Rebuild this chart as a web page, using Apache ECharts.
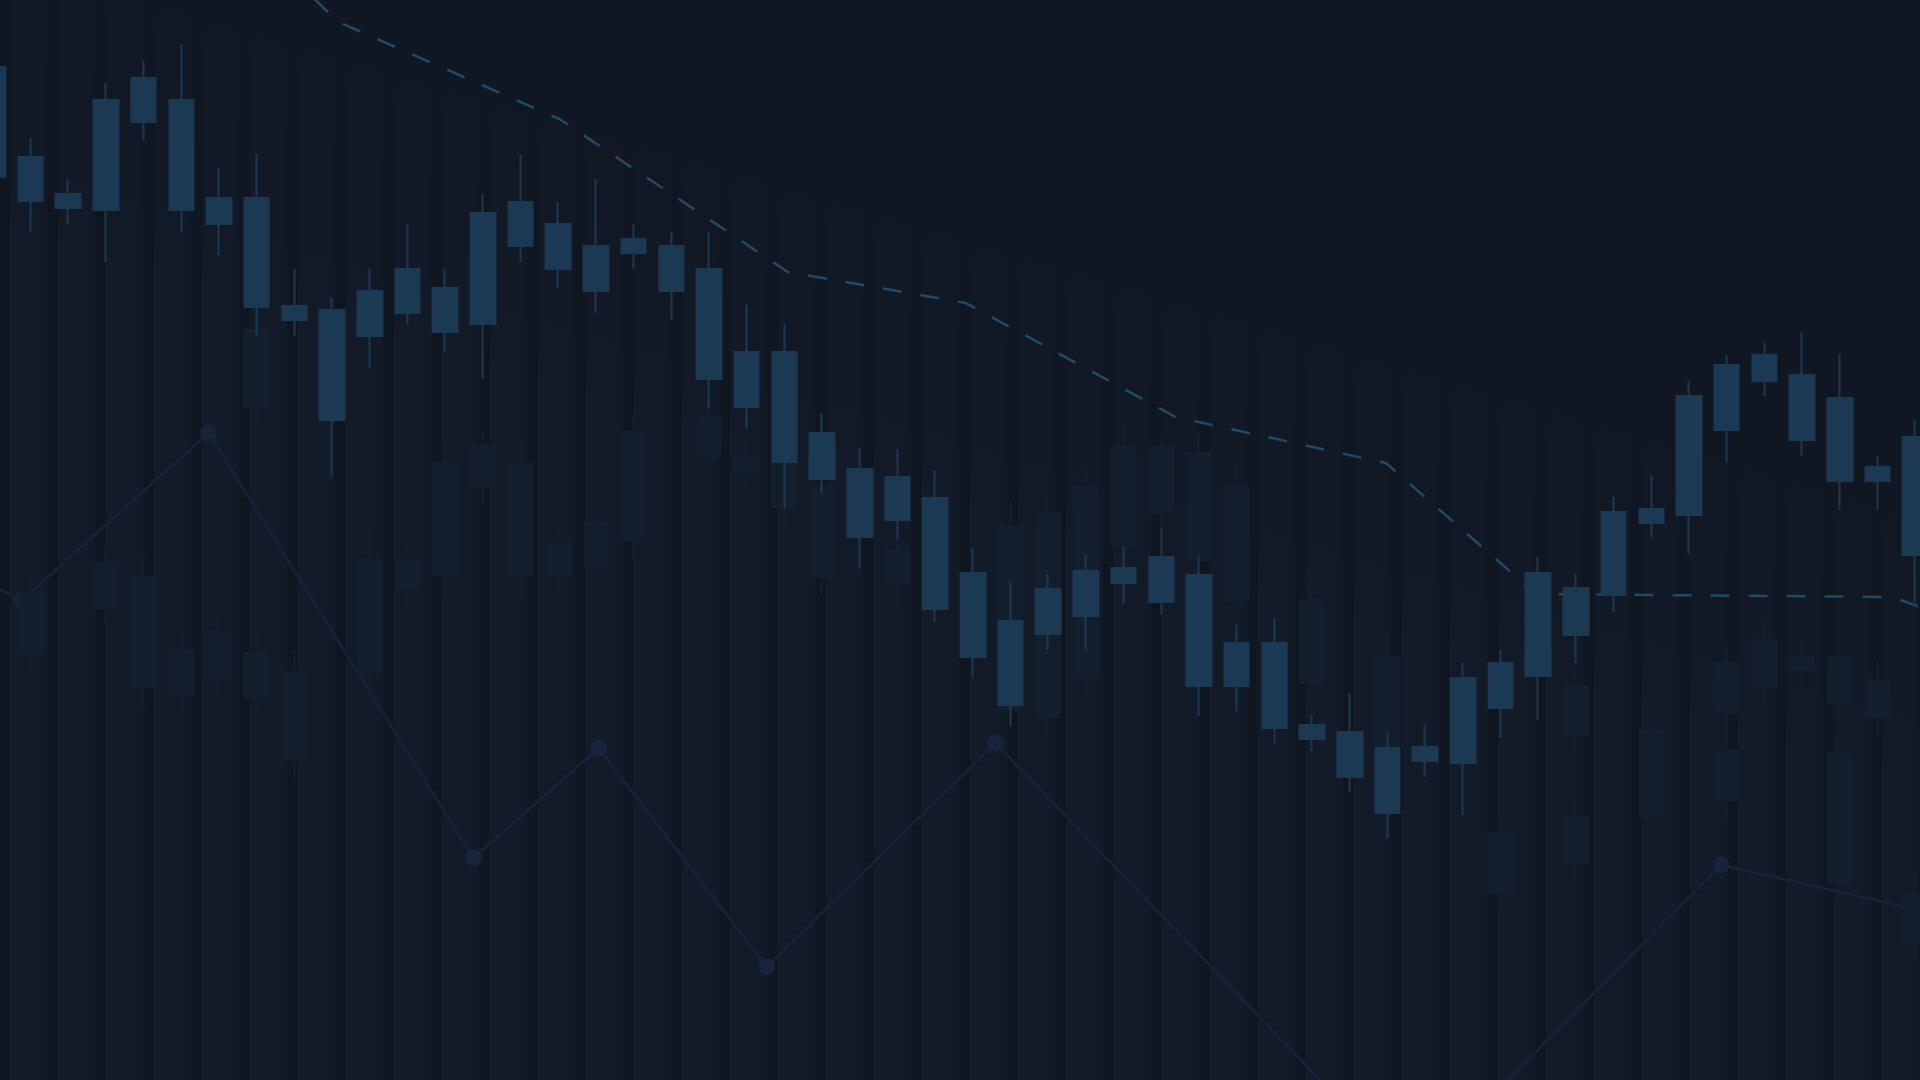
<!DOCTYPE html>
<html><head><meta charset="utf-8">
<style>html,body{margin:0;padding:0;background:#121926;overflow:hidden;width:1920px;height:1080px}#c{position:absolute;left:-26px;top:0;width:1960px;height:1080px;}</style>
<script src="https://cdn.jsdelivr.net/npm/echarts@6/dist/echarts.min.js"></script>
</head><body><div id="c"></div>
<script>
// ---- trading days (hidden category axis) ----
const days = Array.from({length: 52}, (_, i) => 'D' + (i + 1));

// ---- main (bright) candles: body top / bottom, wick high / low ----
const bodyTop    = [101.3,92.3,88.6,98.0,100.2,98.0,88.2,88.2,77.4,77.0,78.9,81.1,79.2,86.7,87.8,85.6,83.4,84.1,83.4,81.1,72.8,72.8,64.7,61.1,60.3,58.2,50.7,45.9,49.1,50.9,51.2,52.3,50.5,43.7,43.7,35.5,34.8,33.2,33.3,40.2,41.7,50.7,49.2,56.8,57.1,68.4,71.5,72.5,70.5,68.2,61.3,64.3];
const bodyBottom = [90.3,87.9,87.2,87.0,95.8,87.0,85.6,77.3,76.0,66.0,74.4,76.7,74.8,75.6,83.4,81.1,78.9,82.7,78.9,70.1,67.3,61.8,60.1,54.3,56.0,47.1,42.3,37.5,44.6,46.4,49.7,47.8,39.4,39.4,35.2,34.1,30.3,26.7,31.9,31.7,37.2,40.4,44.5,48.5,55.7,56.5,65.0,69.9,64.0,59.9,59.9,52.5];
const wickHigh   = [102.5,94.2,90.1,99.7,101.9,103.6,91.2,92.6,81.1,78.2,81.1,85.6,81.1,88.6,92.5,87.8,90.1,85.6,84.8,84.8,77.5,75.6,66.7,63.1,63.1,61.0,53.2,49.8,50.6,52.5,53.3,55.1,52.3,45.5,46.2,36.5,38.7,34.7,35.5,41.7,43.0,52.3,50.6,58.3,60.5,69.9,72.5,73.7,74.7,72.6,62.4,66.0];
const wickLow    = [88.5,84.8,85.6,81.8,93.9,84.8,82.5,74.4,74.4,60.3,71.2,75.6,72.9,70.1,81.8,79.2,76.7,81.1,76.0,67.2,65.1,57.2,58.6,51.1,54.1,45.8,40.3,35.4,43.0,43.0,47.6,46.5,36.4,36.9,33.7,32.9,28.8,24.2,30.3,26.5,34.2,36.0,41.7,46.8,54.3,52.6,61.7,68.4,62.4,57.0,57.0,47.3];

// ---- faint background candles (depth layer) ----
const faintDay    = [1,3,4,5,6,7,8,10,11,12,13,14,15,16,17,19,20,21,22,24,27,28,29,30,31,32,33,35,37,40,42,44,46,47,48,49,50,51];
const faintTop    = [48.7,51.7,50.3,43.0,44.8,42.7,40.8,52.0,52.0,61.7,63.5,61.7,53.7,55.8,64.8,66.3,62.3,61.7,59.3,53.0,55.3,56.7,59.3,63.3,63.3,62.7,59.3,48.0,42.3,24.7,26.3,35.0,41.7,44.0,42.3,42.3,40.0,18.7];
const faintBottom = [42.7,47.2,39.3,38.5,40.3,38.3,32.0,40.8,49.3,50.5,59.3,50.5,50.5,51.3,54.0,62.3,60.7,57.3,50.3,49.7,37.0,36.3,40.3,53.3,56.7,52.0,48.0,39.7,33.3,18.7,21.7,26.3,36.7,39.3,41.0,37.7,36.3,13.7];
const faintHigh   = [50.5,53.0,52.5,45.0,46.5,44.5,43.0,55.0,53.5,64.0,65.0,63.5,55.5,58.0,66.5,68.0,64.0,63.5,62.0,55.0,58.0,59.5,61.0,65.5,64.5,64.5,61.5,51.0,44.5,26.5,28.0,37.0,43.5,46.0,44.0,44.5,42.0,20.5];
const faintLow    = [41.0,45.5,37.0,36.5,38.5,36.5,30.0,38.5,47.5,48.5,57.5,48.5,48.5,49.5,52.0,60.5,59.0,55.5,48.5,47.5,35.0,34.5,38.0,51.5,54.5,50.0,46.0,37.5,31.5,17.0,20.0,24.5,34.5,37.5,39.0,35.5,34.5,12.0];
const faint2Day    = [7,42,46,49];
const faint2Top    = [75.0,39.4,33.0,32.7];
const faint2Bottom = [67.3,34.5,28.0,19.7];
const faint2High   = [77.0,41.0,35.0,34.5];
const faint2Low    = [65.5,33.0,26.0,18.0];

// ---- dashed trend line (x in day units, y in price) ----
const trendX = [8.53,9.17,15.03,21.09,25.81,31.38,36.96,40.94,50.36,51.15,52.2];
const trendY = [108.1,105.8,96.1,80.8,77.7,66.3,61.7,48.6,48.3,47.3,46.0];

// ---- faint zig-zag wave line with markers ----
const waveX = [-0.86,0.78,5.72,12.75,16.07,20.53,26.6,37.67,45.85,52.48];
const waveY = [50.8,48.0,64.7,22.2,33.2,11.3,33.7,-9.6,21.5,15.8];
const waveMarker = [false,true,true,true,true,true,true,false,true,false];

const candleData = days.map((d, i) => [bodyTop[i], bodyBottom[i], wickLow[i], wickHigh[i]]);
function faintSeriesData(dayArr, top, bot, lo, hi) {
  const out = days.map(() => ['-', '-', '-', '-']);
  dayArr.forEach((d, k) => { out[d] = [top[k], bot[k], lo[k], hi[k]]; });
  return out;
}
const faintData = faintSeriesData(faintDay, faintTop, faintBottom, faintLow, faintHigh);
const faint2Data = faintSeriesData(faint2Day, faint2Top, faint2Bottom, faint2Low, faint2High);
const trendData = trendX.map((x, i) => [x, trendY[i]]);
const waveData = waveX.map((x, i) => ({value: [x, waveY[i]], symbol: waveMarker[i] ? 'circle' : 'none'}));

const BAR = '#1c3954';
const FAINT = '#141f2e';
const chart = echarts.init(document.getElementById('c'), null, {renderer: 'canvas'});
chart.setOption({
  animation: false,
  backgroundColor: '#131a28',
  graphic: [{
    type: 'rect', silent: true, z: 1, zlevel: 0,
    shape: {x: 26, y: 0, width: 1920, height: 1080},
    style: {fill: new echarts.graphic.LinearGradient(1, 0, 0.869, 0.8, [
      {offset: 0, color: 'rgba(17,23,34,1)'},
      {offset: 0.55, color: 'rgba(17,23,34,0.92)'},
      {offset: 0.85, color: 'rgba(17,23,34,0)'},
      {offset: 1, color: 'rgba(17,23,34,0)'}
    ])}
  }],
  grid: [
    {left: 0, right: 0, top: 0, bottom: 0},
    {left: 30, right: 10, top: 0, bottom: 0}
  ],
  xAxis: [
    {type: 'category', data: days, gridIndex: 0, boundaryGap: true, show: false},
    {type: 'value', gridIndex: 0, min: -0.5, max: 51.5, show: false},
    {type: 'value', gridIndex: 1, min: 0, max: 1920, interval: 48, show: true, z: 0,
     axisLine: {show: false}, axisTick: {show: false}, axisLabel: {show: false},
     splitLine: {show: true, lineStyle: {color: '#10161f', width: 11}}}
  ],
  yAxis: [
    {type: 'value', gridIndex: 0, min: 0, max: 108, show: false},
    {type: 'value', gridIndex: 1, min: 0, max: 1, show: false}
  ],
  series: [
    {type: 'line', xAxisIndex: 1, yAxisIndex: 0, data: waveData, z: 3, clip: true,
     symbolSize: 17, lineStyle: {color: '#16213a', width: 3}, itemStyle: {color: '#17243b'}},
    {type: 'candlestick', xAxisIndex: 0, yAxisIndex: 0, data: faintData, z: 4, barWidth: 24,
     itemStyle: {color: FAINT, color0: FAINT, borderColor: FAINT, borderColor0: FAINT, borderWidth: 2}},
    {type: 'candlestick', xAxisIndex: 0, yAxisIndex: 0, data: faint2Data, z: 4, barWidth: 24,
     itemStyle: {color: FAINT, color0: FAINT, borderColor: FAINT, borderColor0: FAINT, borderWidth: 2}},
    {type: 'line', xAxisIndex: 1, yAxisIndex: 0, data: trendData, z: 5, clip: true, symbol: 'none',
     lineStyle: {color: '#1f4b69', width: 2.5, type: [19, 19]}},
    {type: 'candlestick', xAxisIndex: 0, yAxisIndex: 0, data: candleData, z: 6, barWidth: 25,
     itemStyle: {color: BAR, color0: BAR, borderColor: BAR, borderColor0: BAR, borderColorDoji: BAR, borderWidth: 2}}
  ]
});
</script></body></html>
